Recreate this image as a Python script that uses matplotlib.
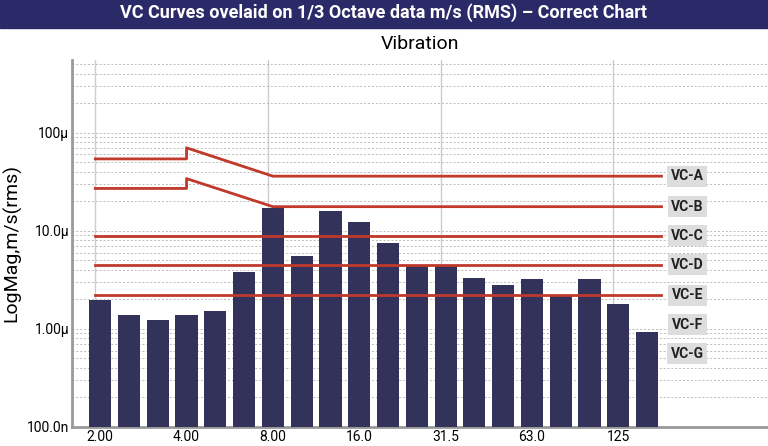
import matplotlib
matplotlib.use("Agg")
import matplotlib.pyplot as plt
import numpy as np
from matplotlib.ticker import LogLocator, NullFormatter

freqs = ["2.00","2.50","3.15","4.00","5.00","6.30","8.00","10.0","12.5","16.0",
         "20.0","25.0","31.5","40.0","50.0","63.0","80.0","100","125","160"]
values = [1.98e-6,1.39e-6,1.24e-6,1.39e-6,1.53e-6,3.8e-6,17e-6,5.5e-6,16e-6,12.3e-6,
          7.5e-6,4.4e-6,4.5e-6,3.3e-6,2.8e-6,3.2e-6,2.2e-6,3.2e-6,1.8e-6,0.93e-6]
tick_labels = ["2.00","4.00","8.00","16.0","31.5","63.0","125"]
vc_names = ["VC-A","VC-B","VC-C","VC-D","VC-E","VC-F","VC-G"]
vc_levels = [36e-6,17.6e-6,8.9e-6,4.5e-6,2.2e-6,1.1e-6,0.56e-6]
vc_low = [54e-6, 27e-6]      # flat level 2-4 Hz for A, B
vc_peak = [70e-6, 34e-6]     # level at 4 Hz after jump

plt.rcParams['font.family'] = ['Roboto', 'DejaVu Sans']
fig = plt.figure(figsize=(7.68,4.46), dpi=100)
fig.patches.append(plt.Rectangle((0,446-28),768,28,transform=None,color="#2b2a68",zorder=0))
fig.text(0.5,1-13/446,"VC Curves ovelaid on 1/3 Octave data m/s (RMS) – Correct Chart",
         color="white",fontsize=13,fontweight="bold",ha="center",va="center")
ax = fig.add_axes([72/768, 19/446, 1-72/768, (427-60)/446])
x = np.arange(len(freqs))
ax.bar(x, values, width=0.77, color="#32325a", zorder=3)
ax.set_yscale("log")
ax.set_ylim(1e-7, 5.5e-4)
ax.set_xlim(-0.98, 23.2)
ax.set_yticks([1e-7,1e-6,1e-5,1e-4])
ax.set_yticklabels(["100.0n","1.00µ","10.0µ","100µ"], fontsize=10)
ax.yaxis.set_minor_locator(LogLocator(subs=np.arange(2,10)))
ax.yaxis.set_minor_formatter(NullFormatter())
ax.tick_params(axis="y", which="both", length=0, pad=2)
tick_idx = [freqs.index(t) for t in tick_labels]
ax.set_xticks(tick_idx)
ax.set_xticklabels(tick_labels, fontsize=10)
ax.tick_params(axis="x", length=0, pad=2)
for i in [0,6,12,18]:
    ax.axvline(i-0.17, color="#cccccc", lw=1, zorder=1)
ax.grid(axis="y", which="both", ls=(0,(2,2)), color="#bbbbbb", lw=0.7, zorder=1)
for s in ["top","right"]:
    ax.spines[s].set_visible(False)
ax.spines["left"].set_color("#999999"); ax.spines["left"].set_linewidth(2)
ax.spines["bottom"].set_color("#999999"); ax.spines["bottom"].set_linewidth(2)
red = "#c0392b"
xe = 19.5
for k in range(5):
    lv = vc_levels[k]
    if k < 2:
        ax.plot([-0.17,3,3,6,xe],[vc_low[k],vc_low[k],vc_peak[k],lv,lv],color=red,lw=2,zorder=4)
    else:
        ax.plot([-0.17,xe],[lv,lv],color=red,lw=2,zorder=4)
for n, lv in zip(vc_names, vc_levels):
    ax.text(20.4, lv, n, fontsize=10, fontweight="bold", color="#222222", ha="center", va="center",
            bbox=dict(boxstyle="square,pad=0.25", fc="#dddddd", ec="none"), zorder=5)
ax.set_title("Vibration", fontsize=14, pad=8)
ax.set_ylabel("LogMag,m/s(rms)", fontsize=14, labelpad=4)
fig.savefig("out.png", dpi=100)
